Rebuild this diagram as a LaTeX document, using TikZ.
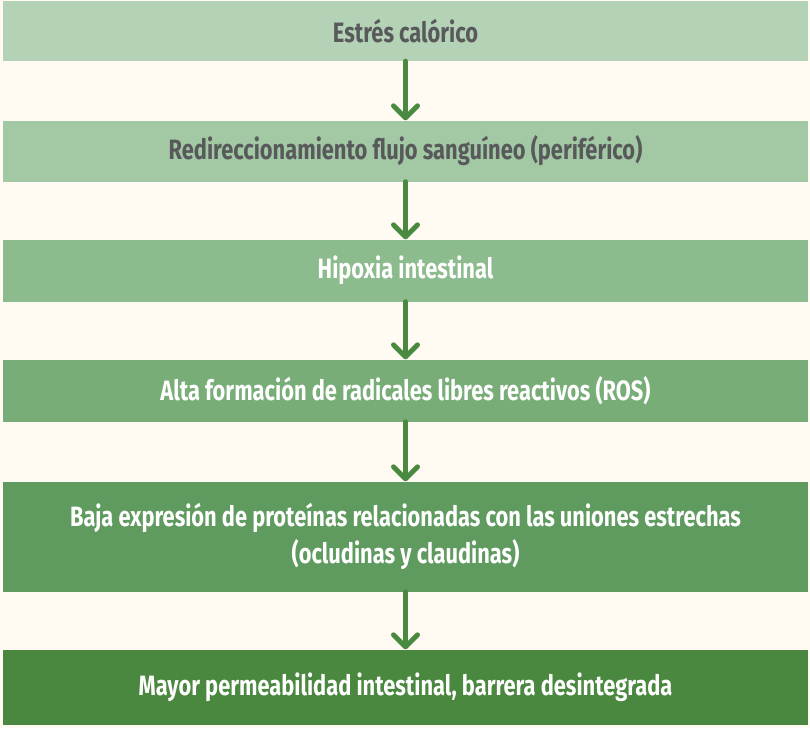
\documentclass[tikz,border=0pt]{standalone}
\usepackage{fontspec}
\setmainfont{Fira Sans}[FakeStretch=0.78]
\usetikzlibrary{arrows.meta}

\definecolor{fondo}{HTML}{FFFBF3}
\definecolor{verdeA}{HTML}{B4D2B6}
\definecolor{verdeB}{HTML}{A2C8A4}
\definecolor{verdeC}{HTML}{8CBB8D}
\definecolor{verdeD}{HTML}{78AD78}
\definecolor{verdeE}{HTML}{5F9A5F}
\definecolor{verdeF}{HTML}{4A873F}
\definecolor{flechaverde}{HTML}{4A8A40}
\definecolor{gristexto}{HTML}{58595B}

\begin{document}
\begin{tikzpicture}[x=1pt,y=-1pt,
    caja/.style={rectangle, inner sep=0pt, minimum width=805pt, align=center,
                 font=\fontsize{28}{37}\selectfont\bfseries, text=white},
    flecha/.style={draw=flechaverde, line width=5pt, line cap=round,
                   -{Straight Barb[length=12pt,width=24pt,round]}}]
    \fill[fondo] (0,0) rectangle (810,728);
    \node (estres) at (405.5,31) [caja, fill=verdeA, minimum height=60pt, text=gristexto] {Estrés calórico};
    \node (flujo) at (405.5,151) [caja, fill=verdeB, minimum height=61pt, text=gristexto] {Redireccionamiento flujo sanguíneo (periférico)};
    \node (hipoxia) at (405.5,270.5) [caja, fill=verdeC, minimum height=62pt] {Hipoxia intestinal};
    \node (ros) at (405.5,390.5) [caja, fill=verdeD, minimum height=62pt] {Alta formación de radicales libres reactivos (ROS)};
    \node (proteinas) at (405.5,536.5) [caja, fill=verdeE, minimum height=110pt] {Baja expresión de proteínas relacionadas con las uniones estrechas\\(ocludinas y claudinas)};
    \node (barrera) at (405.5,687) [caja, fill=verdeF, minimum height=75pt] {Mayor permeabilidad intestinal, barrera desintegrada};
    \draw[flecha] (estres) -- (flujo);
    \draw[flecha] (flujo) -- (hipoxia);
    \draw[flecha] (hipoxia) -- (ros);
    \draw[flecha] (ros) -- (proteinas);
    \draw[flecha] (proteinas) -- (barrera);
\end{tikzpicture}
\end{document}
